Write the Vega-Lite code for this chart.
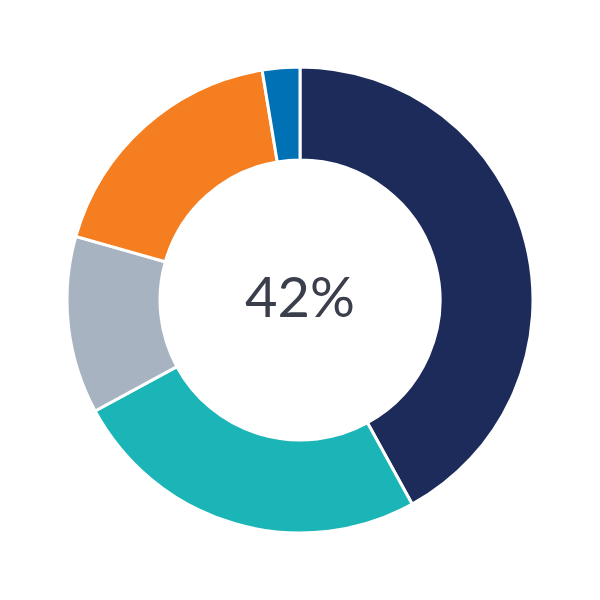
{
  "$schema": "https://vega.github.io/schema/vega-lite/v6.json",
  "width": 600,
  "height": 600,
  "autosize": {"type": "fit", "contains": "padding"},
  "padding": 0,
  "background": "white",
  "view": {"stroke": null},
  "data": {
    "values": [
      {"segment": "A", "share": 42, "rank": 1},
      {"segment": "B", "share": 25.1, "rank": 2},
      {"segment": "C", "share": 12.3, "rank": 3},
      {"segment": "D", "share": 18, "rank": 4},
      {"segment": "E", "share": 2.6, "rank": 5}
    ]
  },
  "layer": [
    {
      "mark": {"type": "arc", "radius": 233, "innerRadius": 140, "stroke": "white", "strokeWidth": 3},
      "encoding": {
        "theta": {"field": "share", "type": "quantitative", "stack": true},
        "order": {"field": "rank", "type": "quantitative"},
        "color": {
          "field": "segment",
          "type": "nominal",
          "legend": null,
          "scale": {
            "domain": ["A", "B", "C", "D", "E"],
            "range": ["#1c2b5a", "#1bb4b7", "#a8b3c1", "#f47e20", "#0071b4"]
          }
        }
      }
    },
    {
      "data": {"values": [{"label": "42%"}]},
      "mark": {"type": "text", "font": "Lato", "fontWeight": 400, "fontSize": 56, "color": "#3a3f4b", "baseline": "middle", "align": "center"},
      "encoding": {"text": {"field": "label"}}
    }
  ]
}
